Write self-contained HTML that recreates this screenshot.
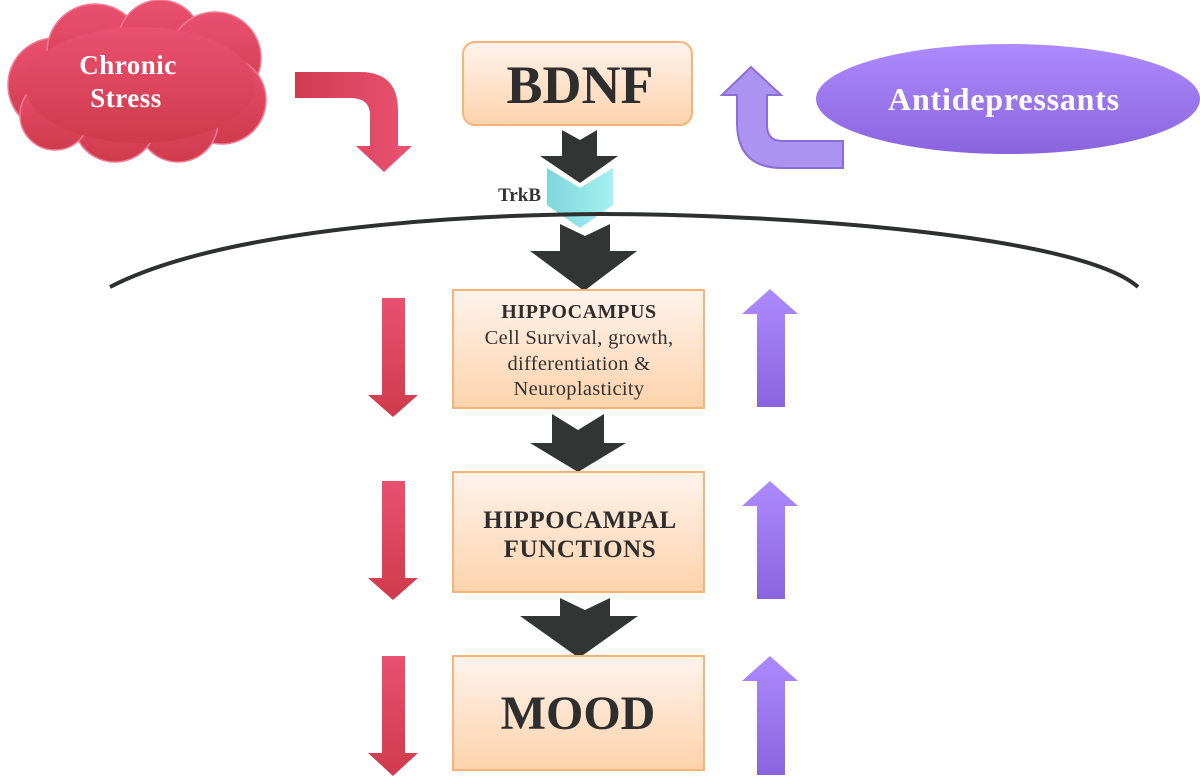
<!DOCTYPE html>
<html><head><meta charset="utf-8"><style>
html,body{margin:0;padding:0;background:#fff}
svg{display:block}
text{font-family:"Liberation Serif",serif;font-weight:bold}
.n{font-weight:normal}
</style></head><body>
<svg width="1200" height="784" viewBox="0 0 1200 784" xmlns="http://www.w3.org/2000/svg">
<defs>
<linearGradient id="box" x1="0" y1="0" x2="0" y2="1"><stop offset="0" stop-color="#fff3ec"/><stop offset="1" stop-color="#fdd3ac"/></linearGradient>
<linearGradient id="red" x1="0" y1="0" x2="0" y2="1"><stop offset="0" stop-color="#ea5070"/><stop offset="1" stop-color="#cf3b4c"/></linearGradient>
<linearGradient id="redh" x1="0" y1="0" x2="1" y2="0"><stop offset="0" stop-color="#d03c50"/><stop offset="1" stop-color="#ea5272"/></linearGradient>
<linearGradient id="pur" x1="0" y1="0" x2="0" y2="1"><stop offset="0" stop-color="#ad8afc"/><stop offset="1" stop-color="#8a64de"/></linearGradient>
<linearGradient id="cyan" x1="0" y1="0" x2="1" y2="0"><stop offset="0" stop-color="#7fd6da"/><stop offset="1" stop-color="#a5f0f2"/></linearGradient>
</defs>

<!-- cloud -->
<g fill="url(#red)" stroke="#f07a92" stroke-width="1.5">
<circle cx="55" cy="85" r="47"/><circle cx="95" cy="52" r="48"/><circle cx="160" cy="42" r="42"/>
<circle cx="215" cy="58" r="46"/><circle cx="222" cy="100" r="44"/><circle cx="178" cy="122" r="40"/>
<circle cx="115" cy="120" r="42"/><circle cx="55" cy="115" r="35"/>
</g>
<ellipse cx="140" cy="85" rx="115" ry="58" fill="url(#red)"/>
<text x="128" y="74" font-size="27" fill="#fff" text-anchor="middle" letter-spacing="0.5">Chronic</text>
<text x="126" y="107" font-size="27" fill="#fff" text-anchor="middle" letter-spacing="0.5">Stress</text>

<!-- red bent arrow -->
<path d="M295 72 H360 Q398 72 398 110 V146 H412 L384 172 L356 146 H370 V115 Q370 98 350 98 H295 Z" fill="url(#redh)"/>

<!-- antidepressants -->
<ellipse cx="1008" cy="99" rx="192" ry="55" fill="url(#pur)"/>
<text x="1004" y="110" font-size="32" fill="#fff" text-anchor="middle" letter-spacing="0.8">Antidepressants</text>
<path d="M843 141 V168 H782 Q737 168 737 122 V95 H722 L751 67 L781 95 H767 V125 Q767 141 782 141 Z" fill="#ab93f2" stroke="#8a6ed6" stroke-width="2"/>

<!-- BDNF -->
<rect x="463" y="42" width="229" height="83" rx="12" fill="url(#box)" stroke="#f8b478" stroke-width="2"/>
<text x="580" y="103" font-size="54" fill="#2e2e2e" text-anchor="middle">BDNF</text>

<!-- dark arrow 1 -->
<path d="M562 130 L580 140 L597 130 V156 H618 L580 183 L540 156 H562 Z" fill="#333535"/>
<!-- TrkB -->
<path d="M547 168 L580 188 L613 168 V205 L580 228 L547 205 Z" fill="url(#cyan)"/>
<text x="541" y="201" font-size="19" fill="#333" text-anchor="end">TrkB</text>

<!-- membrane -->
<path d="M110 287 C220 230 450 215 600 214 C780 214 1080 235 1138 287" fill="none" stroke="#2e3030" stroke-width="4"/>

<!-- dark arrow 2 -->
<path d="M560 224 L585 236 L610 224 V251 H637 L584 291 L530 251 H560 Z" fill="#333535"/>

<!-- hippocampus -->
<rect x="453" y="290" width="251" height="118" fill="url(#box)" stroke="#f8b478" stroke-width="2"/>
<text x="579" y="318" font-size="20" fill="#2e2e2e" text-anchor="middle" letter-spacing="0.6">HIPPOCAMPUS</text>
<text x="579" y="344" font-size="20.5" fill="#333" class="n" text-anchor="middle" letter-spacing="0.3">Cell Survival,  growth,</text>
<text x="579" y="370" font-size="20.5" fill="#333" class="n" text-anchor="middle" letter-spacing="0.3">differentiation   &amp;</text>
<text x="579" y="395" font-size="20.5" fill="#333" class="n" text-anchor="middle" letter-spacing="0.3">Neuroplasticity</text>

<!-- dark arrow 3 -->
<path d="M552 414 L578 430 L604 414 V443 H626 L578 472 L530 443 H552 Z" fill="#333535"/>

<!-- functions -->
<rect x="453" y="472" width="251" height="120" fill="url(#box)" stroke="#f8b478" stroke-width="2"/>
<text x="580" y="528" font-size="25" fill="#2e2e2e" text-anchor="middle" letter-spacing="0.6">HIPPOCAMPAL</text>
<text x="580" y="557" font-size="25" fill="#2e2e2e" text-anchor="middle" letter-spacing="0.6">FUNCTIONS</text>

<!-- dark arrow 4 -->
<path d="M560 598 L585 610 L610 598 V616 H638 L579 658 L520 616 H560 Z" fill="#333535"/>

<!-- mood -->
<rect x="453" y="656" width="251" height="114" fill="url(#box)" stroke="#f8b478" stroke-width="2"/>
<text x="578" y="729" font-size="48" fill="#2e2e2e" text-anchor="middle">MOOD</text>

<!-- red down arrows -->
<g fill="url(#red)">
<path d="M382 298 H405 V395 H418 L393 417 L368 395 H382 Z"/>
<path d="M382 481 H405 V578 H418 L393 600 L368 578 H382 Z"/>
<path d="M382 656 H405 V753 H418 L393 776 L368 753 H382 Z"/>
</g>
<!-- purple up arrows -->
<g fill="url(#pur)">
<path d="M770 289 L798 314 H785 V407 H757 V314 H742 Z"/>
<path d="M770 481 L798 506 H785 V599 H757 V506 H742 Z"/>
<path d="M770 656 L798 681 H785 V775 H757 V681 H742 Z"/>
</g>
</svg>
</body></html>
